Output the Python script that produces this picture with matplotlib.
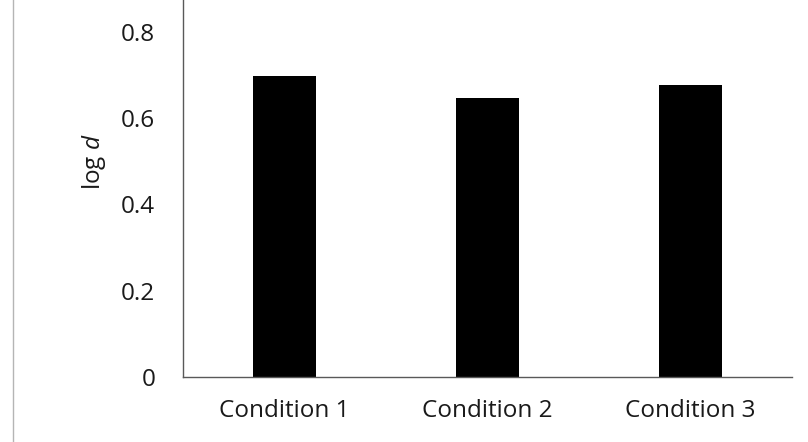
import matplotlib
matplotlib.use("Agg")
import matplotlib.pyplot as plt
from matplotlib.lines import Line2D

categories = ["Condition 1", "Condition 2", "Condition 3"]
values = [0.698, 0.647, 0.676]
yticks = [0, 0.2, 0.4, 0.6, 0.8]
ytick_labels = ["0", "0.2", "0.4", "0.6", "0.8"]

plt.rcParams['font.family'] = ['Open Sans', 'DejaVu Sans']
plt.rcParams['mathtext.fontset'] = 'custom'
plt.rcParams['mathtext.it'] = 'Open Sans:italic'
plt.rcParams['mathtext.rm'] = 'Open Sans'

fig = plt.figure(figsize=(8.08, 4.42), dpi=100)
ax = fig.add_axes([183/808, 1 - 377/442, (792-183)/808, 377/442])

x = list(range(len(categories)))
ax.bar(x, values, width=0.31, color='black')
ax.set_xlim(-0.5, 2.5)
ax.set_ylim(0, 0.874)
ax.set_yticks(yticks)
ax.set_yticklabels(ytick_labels)
ax.set_xticks(x)
ax.set_xticklabels(categories)
ax.tick_params(axis='both', length=0, labelsize=17.5, colors='#1a1a1a')
ax.tick_params(axis='y', pad=20)
ax.tick_params(axis='x', pad=16)
for s in ['top', 'right']:
    ax.spines[s].set_visible(False)
for s in ['left', 'bottom']:
    ax.spines[s].set_color('#595959')
    ax.spines[s].set_linewidth(1.0)
ax.set_ylabel(r'log $\it{d}$', fontsize=17.5, color='#1a1a1a')
ax.yaxis.set_label_coords(-0.123, 0.57)

fig.add_artist(Line2D([13/808, 13/808], [0, 1], transform=fig.transFigure,
                      color='#b5b5b5', linewidth=1.0))

fig.savefig("out.png", dpi=100)
